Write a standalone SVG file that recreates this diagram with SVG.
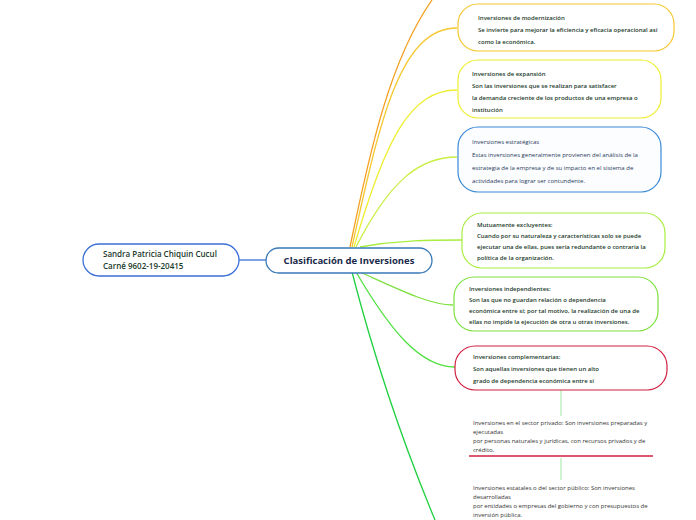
<svg xmlns="http://www.w3.org/2000/svg" width="696" height="520" viewBox="0 0 696 520">
<style>
text{font-family:"Open Sans","Noto Sans",sans-serif;fill:#1a3a2a}
.s{font-size:6px;font-weight:600}
.n{font-size:6px;fill:#2a3a5a}
.p{font-size:6px;fill:#333}
.c{fill:none;stroke-width:1.3}
</style>
<rect width="696" height="520" fill="#fff"/>
<g id="connectors">
<line x1="239" y1="260" x2="266" y2="260" stroke="#3a6fd8" stroke-width="1.3"/>
<path class="c" d="M350 247 C370 150 390 60 432 0" stroke="#f4a020" stroke-width="2"/>
<path class="c" d="M352 247 C380 120 400 28 457 28" stroke="#f5c830"/>
<path class="c" d="M354 247 C385 140 410 90 457 90" stroke="#eeee30"/>
<path class="c" d="M356 247 C390 180 420 157 457 157" stroke="#c8ee40"/>
<path class="c" d="M360 247 C400 240 430 240 462 240" stroke="#a8ee40"/>
<path class="c" d="M360 272 C400 290 430 305 453 305" stroke="#7ee040"/>
<path class="c" d="M356 272 C390 330 420 367 455 367" stroke="#50e040"/>
<path class="c" d="M352 272 C380 380 410 460 435 520" stroke="#20d040"/>
<line x1="561" y1="390" x2="561" y2="416" stroke="#a0e8a0"/>
<line x1="561" y1="458" x2="561" y2="480" stroke="#a0e8a0"/>
</g>
<g id="root"><rect x="83" y="244" width="156" height="32" rx="16" fill="#fff" stroke="#3a6fd8" stroke-width="1.3"/>
<text x="103" y="257" style="font-size:8px;font-weight:600">Sandra Patricia Chiquin Cucul</text>
<text x="103" y="269" style="font-size:8px;font-weight:600">Carné 9602-19-20415</text></g>
<g id="center"><rect x="266" y="248" width="166" height="25" rx="12.5" fill="#fff" stroke="#3a7ab8" stroke-width="1.3"/>
<text x="349" y="264" text-anchor="middle" style="font-size:9.5px;font-weight:700;fill:#1a2a4a">Clasificación de Inversiones</text></g>
<g id="n1"><rect x="458" y="4" width="216" height="47" rx="20" fill="#fff" stroke="#f5c830" stroke-width="1.2"/>
<text class="s" x="478" y="20">Inversiones de modernización</text>
<text class="s" x="478" y="32">Se invierte para mejorar la eficiencia y eficacia operacional así</text>
<text class="s" x="478" y="44">como la económica.</text></g>
<g id="n2"><rect x="458" y="60" width="203" height="58" rx="20" fill="#fff" stroke="#eeee30" stroke-width="1.2"/>
<text class="s" x="472" y="76">Inversiones de expansión</text>
<text class="s" x="472" y="88">Son las inversiones que se realizan para satisfacer</text>
<text class="s" x="472" y="100">la demanda creciente de los productos de una empresa o</text>
<text class="s" x="472" y="112">institución</text></g>
<g id="n3"><rect x="458" y="127" width="203" height="65" rx="20" fill="#fbfdff" stroke="#3a8ad8" stroke-width="1.2"/>
<text class="n" x="472" y="144">Inversiones estratégicas</text>
<text class="n" x="472" y="157">Estas inversiones generalmente provienen del análisis de la</text>
<text class="n" x="472" y="170">estrategia de la empresa y de su impacto en el sistema de</text>
<text class="n" x="472" y="183">actividades para lograr ser contundente.</text></g>
<g id="n4"><rect x="462" y="213" width="203" height="55" rx="20" fill="#fff" stroke="#a8ee40" stroke-width="1.2"/>
<text class="s" x="477" y="227">Mutuamente excluyentes:</text>
<text class="s" x="477" y="238">Cuando por su naturaleza y características solo se puede</text>
<text class="s" x="477" y="249">ejecutar una de ellas, pues sería redundante o contraria la</text>
<text class="s" x="477" y="260">política de la organización.</text></g>
<g id="n5"><rect x="454" y="277" width="204" height="54" rx="20" fill="#fff" stroke="#7ee040" stroke-width="1.2"/>
<text class="s" x="469" y="291">Inversiones independientes:</text>
<text class="s" x="469" y="302">Son las que no guardan relación o dependencia</text>
<text class="s" x="469" y="313"> económica entre sí; por tal motivo, la realización de una de</text>
<text class="s" x="469" y="324">ellas no impide la ejecución de otra u otras inversiones.</text></g>
<g id="n6"><rect x="455" y="346" width="212" height="44" rx="20" fill="#fff" stroke="#d02040" stroke-width="1.2"/>
<text class="s" x="473" y="359">Inversiones complementarias:</text>
<text class="s" x="473" y="371">Son aquellas inversiones que tienen un alto</text>
<text class="s" x="473" y="383">grado de dependencia económica entre sí</text></g>
<g id="n7">
<text class="p" x="473" y="425">Inversiones en el sector privado: Son inversiones preparadas y</text>
<text class="p" x="473" y="434">ejecutadas</text>
<text class="p" x="473" y="443">por personas naturales y jurídicas, con recursos privados y de</text>
<text class="p" x="473" y="452">crédito,</text>
<line x1="469" y1="456" x2="653" y2="456" stroke="#d02040" stroke-width="1.5"/></g>
<g id="n8">
<text class="p" x="473" y="490">Inversiones estatales o del sector público: Son inversiones</text>
<text class="p" x="473" y="499">desarrolladas</text>
<text class="p" x="473" y="508">por entidades o empresas del gobierno y con presupuestos de</text>
<text class="p" x="473" y="517">inversión pública.</text></g>
</svg>
